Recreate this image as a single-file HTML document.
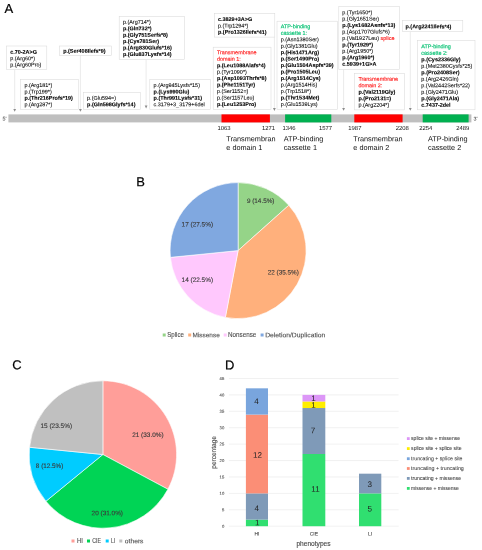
<!DOCTYPE html>
<html><head><meta charset="utf-8"><title>Figure</title>
<style>
html,body{margin:0;padding:0;background:#fff;}
svg{display:block;}
text{font-family:"Liberation Sans",Arial,sans-serif;fill:#000;}
.b{font-weight:bold;stroke:#000;stroke-width:0.1px;}
.bx{fill:#fff;stroke:#dadada;stroke-width:0.55;}
.ar{stroke:#d6d6d6;stroke-width:0.5;fill:none;}
.ah{fill:#8c8c8c;}
.t{font-size:5.45px;}
.r{fill:#ff1010;stroke:#ff1010;stroke-width:0.12px;}
.g{fill:#00c070;stroke:#00c070;stroke-width:0.15px;}
.n{fill:#000;stroke:#000;stroke-width:0.07px;}
.pl{font-size:13px;stroke:#000;stroke-width:0.2px;}
.dl{font-size:7.3px;fill:#111;}
.nl{font-size:5.9px;fill:#111;}
.pt{font-size:6.4px;fill:#3a3a3a;stroke:#3a3a3a;stroke-width:0.12px;}
.lg{font-size:6.5px;fill:#505050;stroke:#505050;stroke-width:0.12px;}
.ax{font-size:4.2px;fill:#505050;stroke:#505050;stroke-width:0.1px;}
.bl{font-size:8.1px;fill:#222;}
</style></head><body>
<svg width="482" height="550" viewBox="0 0 482 550">
<rect x="0" y="0" width="482" height="550" fill="#fff"/>

<g transform="matrix(1 0.0005 0 1 0 -0.0023)"><text class="pl" x="4.6" y="13.1">A</text></g>
<g transform="matrix(1 0.0005 0 1 0 -0.0681)"><text class="pl" x="136.2" y="186.3">B</text></g>
<g transform="matrix(1 0.0005 0 1 0 -0.0061)"><text class="pl" x="12.2" y="369.3">C</text></g>
<g transform="matrix(1 0.0005 0 1 0 -0.1125)"><text class="pl" x="224.9" y="369.5">D</text></g>
<line class="ar" x1="14.7" y1="69.7" x2="14.7" y2="109.8"/>
<path class="ah" d="M13.30 109.00L16.10 109.00L14.7 111.8Z"/>
<line class="ar" x1="80.4" y1="55.3" x2="80.4" y2="109.8"/>
<path class="ah" d="M79.00 109.00L81.80 109.00L80.4 111.8Z"/>
<line class="ar" x1="146.1" y1="59.7" x2="146.1" y2="106.4"/>
<path class="ah" d="M144.70 105.60L147.50 105.60L146.1 108.4Z"/>
<line class="ar" x1="274.4" y1="37.1" x2="274.4" y2="108.9"/>
<path class="ah" d="M273.00 108.10L275.80 108.10L274.4 110.9Z"/>
<line class="ar" x1="343.6" y1="69.3" x2="343.6" y2="108.7"/>
<path class="ah" d="M342.20 107.90L345.00 107.90L343.6 110.7Z"/>
<line class="ar" x1="410.3" y1="31.6" x2="410.3" y2="108.7"/>
<path class="ah" d="M408.90 107.90L411.70 107.90L410.3 110.7Z"/>
<rect class="bx" x="6.6" y="46" width="40.20" height="23.70"/>
<g transform="matrix(1 0.0005 0 1 0 -0.0051)"><text class="t" x="10.2" y="53.76"><tspan class="b">c.70-2A&gt;G</tspan></text></g>
<g transform="matrix(1 0.0005 0 1 0 -0.0051)"><text class="t" x="10.2" y="60.13"><tspan class="n">p.(Arg60*)</tspan></text></g>
<g transform="matrix(1 0.0005 0 1 0 -0.0051)"><text class="t" x="10.2" y="66.50"><tspan class="n">p.(Arg60Pro)</tspan></text></g>
<rect class="bx" x="59.7" y="46" width="51.60" height="9.30"/>
<g transform="matrix(1 0.0005 0 1 0 -0.0316)"><text class="t" x="63.2" y="52.76"><tspan class="b">p.(Ser408Ilefs*9)</tspan></text></g>
<rect class="bx" x="20.7" y="79.7" width="57.70" height="29.80"/>
<g transform="matrix(1 0.0005 0 1 0 -0.0122)"><text class="t" x="24.4" y="87.06"><tspan class="n">p.(Arg181*)</tspan></text></g>
<g transform="matrix(1 0.0005 0 1 0 -0.0122)"><text class="t" x="24.4" y="93.43"><tspan class="n">p.(Trp199*)</tspan></text></g>
<g transform="matrix(1 0.0005 0 1 0 -0.0122)"><text class="t" x="24.4" y="99.80"><tspan class="b">p.(Thr216Profs*19)</tspan></text></g>
<g transform="matrix(1 0.0005 0 1 0 -0.0122)"><text class="t" x="24.4" y="106.17"><tspan class="n">p.(Arg287*)</tspan></text></g>
<rect class="bx" x="83.4" y="92.6" width="57.00" height="16.90"/>
<g transform="matrix(1 0.0005 0 1 0 -0.0435)"><text class="t" x="87.1" y="99.76"><tspan class="n">p.(Glu594=)</tspan></text></g>
<g transform="matrix(1 0.0005 0 1 0 -0.0435)"><text class="t" x="87.1" y="106.13"><tspan class="b">p.(Gln598Glyfs*14)</tspan></text></g>
<rect class="bx" x="119.2" y="16.7" width="65.50" height="43.00"/>
<g transform="matrix(1 0.0005 0 1 0 -0.0615)"><text class="t" x="122.9" y="23.86"><tspan class="n">p.(Arg714*)</tspan></text></g>
<g transform="matrix(1 0.0005 0 1 0 -0.0615)"><text class="t" x="122.9" y="30.28"><tspan class="b">p.(Gln732*)</tspan></text></g>
<g transform="matrix(1 0.0005 0 1 0 -0.0615)"><text class="t" x="122.9" y="36.70"><tspan class="b">p.(Gly751Serfs*8)</tspan></text></g>
<g transform="matrix(1 0.0005 0 1 0 -0.0615)"><text class="t" x="122.9" y="43.12"><tspan class="b">p.(Cys781Ser)</tspan></text></g>
<g transform="matrix(1 0.0005 0 1 0 -0.0615)"><text class="t" x="122.9" y="49.54"><tspan class="b">p.(Arg830Glufs*16)</tspan></text></g>
<g transform="matrix(1 0.0005 0 1 0 -0.0615)"><text class="t" x="122.9" y="55.96"><tspan class="b">p.(Glu837Lysfs*14)</tspan></text></g>
<rect class="bx" x="149.8" y="79.7" width="60.90" height="29.90"/>
<g transform="matrix(1 0.0005 0 1 0 -0.0768)"><text class="t" x="153.6" y="87.06"><tspan class="n">p.(Arg945Lysfs*15)</tspan></text></g>
<g transform="matrix(1 0.0005 0 1 0 -0.0768)"><text class="t" x="153.6" y="93.43"><tspan class="b">p.(Lys990Glu)</tspan></text></g>
<g transform="matrix(1 0.0005 0 1 0 -0.0768)"><text class="t" x="153.6" y="99.80"><tspan class="b">p.(Thr991Lysfs*31)</tspan></text></g>
<g transform="matrix(1 0.0005 0 1 0 -0.0768)"><text class="t" x="153.6" y="106.17"><tspan class="n">c.3179+3_3179+6del</tspan></text></g>
<rect class="bx" x="214.5" y="13.6" width="60.30" height="23.50"/>
<g transform="matrix(1 0.0005 0 1 0 -0.1090)"><text class="t" x="218" y="20.96"><tspan class="b">c.3829+3A&gt;G</tspan></text></g>
<g transform="matrix(1 0.0005 0 1 0 -0.1090)"><text class="t" x="218" y="27.41"><tspan class="n">p.(Trp1294*)</tspan></text></g>
<g transform="matrix(1 0.0005 0 1 0 -0.1090)"><text class="t" x="218" y="33.86"><tspan class="b">p.(Pro1326Ilefs*41)</tspan></text></g>
<rect class="bx" x="213.2" y="47.2" width="57.80" height="62.50"/>
<g transform="matrix(1 0.0005 0 1 0 -0.1085)"><text class="t" x="216.9" y="54.26"><tspan class="r">Transmembrane</tspan></text></g>
<g transform="matrix(1 0.0005 0 1 0 -0.1085)"><text class="t" x="216.9" y="60.72"><tspan class="r">domain 1:</tspan></text></g>
<g transform="matrix(1 0.0005 0 1 0 -0.1085)"><text class="t" x="216.9" y="67.18"><tspan class="b">p.(Leu1088Alafs*4)</tspan></text></g>
<g transform="matrix(1 0.0005 0 1 0 -0.1085)"><text class="t" x="216.9" y="73.64"><tspan class="n">p.(Tyr1090*)</tspan></text></g>
<g transform="matrix(1 0.0005 0 1 0 -0.1085)"><text class="t" x="216.9" y="80.10"><tspan class="b">p.(Asp1093Thrfs*8)</tspan></text></g>
<g transform="matrix(1 0.0005 0 1 0 -0.1085)"><text class="t" x="216.9" y="86.56"><tspan class="b">p.(Phe1151Tyr)</tspan></text></g>
<g transform="matrix(1 0.0005 0 1 0 -0.1085)"><text class="t" x="216.9" y="93.02"><tspan class="n">p.(Ser1152=)</tspan></text></g>
<g transform="matrix(1 0.0005 0 1 0 -0.1085)"><text class="t" x="216.9" y="99.48"><tspan class="n">p.(Ser1157Leu)</tspan></text></g>
<g transform="matrix(1 0.0005 0 1 0 -0.1085)"><text class="t" x="216.9" y="105.94"><tspan class="b">p.(Leu1253Pro)</tspan></text></g>
<rect class="bx" x="277" y="21.2" width="60.40" height="88.30"/>
<g transform="matrix(1 0.0005 0 1 0 -0.1404)"><text class="t" x="280.7" y="28.26"><tspan class="g">ATP-binding</tspan></text></g>
<g transform="matrix(1 0.0005 0 1 0 -0.1404)"><text class="t" x="280.7" y="34.73"><tspan class="g">cassette 1:</tspan></text></g>
<g transform="matrix(1 0.0005 0 1 0 -0.1404)"><text class="t" x="280.7" y="41.20"><tspan class="n">p.(Asn1380Ser)</tspan></text></g>
<g transform="matrix(1 0.0005 0 1 0 -0.1404)"><text class="t" x="280.7" y="47.67"><tspan class="n">p.(Gly1381Glu)</tspan></text></g>
<g transform="matrix(1 0.0005 0 1 0 -0.1404)"><text class="t" x="280.7" y="54.14"><tspan class="b">p.(His1471Arg)</tspan></text></g>
<g transform="matrix(1 0.0005 0 1 0 -0.1404)"><text class="t" x="280.7" y="60.61"><tspan class="b">p.(Ser1490Pro)</tspan></text></g>
<g transform="matrix(1 0.0005 0 1 0 -0.1404)"><text class="t" x="280.7" y="67.08"><tspan class="b">p.(Glu1504Aspfs*39)</tspan></text></g>
<g transform="matrix(1 0.0005 0 1 0 -0.1404)"><text class="t" x="280.7" y="73.55"><tspan class="b">p.(Pro1505Leu)</tspan></text></g>
<g transform="matrix(1 0.0005 0 1 0 -0.1404)"><text class="t" x="280.7" y="80.02"><tspan class="b">p.(Arg1514Cys)</tspan></text></g>
<g transform="matrix(1 0.0005 0 1 0 -0.1404)"><text class="t" x="280.7" y="86.49"><tspan class="n">p.(Arg1514His)</tspan></text></g>
<g transform="matrix(1 0.0005 0 1 0 -0.1404)"><text class="t" x="280.7" y="92.96"><tspan class="n">p.(Trp1518*)</tspan></text></g>
<g transform="matrix(1 0.0005 0 1 0 -0.1404)"><text class="t" x="280.7" y="99.43"><tspan class="b">p.(Thr1534Met)</tspan></text></g>
<g transform="matrix(1 0.0005 0 1 0 -0.1404)"><text class="t" x="280.7" y="105.90"><tspan class="n">p.(Glu1539Lys)</tspan></text></g>
<rect class="bx" x="338.8" y="6.6" width="60.90" height="62.70"/>
<g transform="matrix(1 0.0005 0 1 0 -0.1711)"><text class="t" x="342.3" y="14.16"><tspan class="n">p.(Tyr1650*)</tspan></text></g>
<g transform="matrix(1 0.0005 0 1 0 -0.1711)"><text class="t" x="342.3" y="20.61"><tspan class="n">p.(Gly1651Ser)</tspan></text></g>
<g transform="matrix(1 0.0005 0 1 0 -0.1711)"><text class="t" x="342.3" y="27.06"><tspan class="b">p.(Lys1682Asnfs*13)</tspan></text></g>
<g transform="matrix(1 0.0005 0 1 0 -0.1711)"><text class="t" x="342.3" y="33.51"><tspan class="n">p.(Asp1707Glufs*6)</tspan></text></g>
<g transform="matrix(1 0.0005 0 1 0 -0.1711)"><text class="t" x="342.3" y="39.96"><tspan class="n">p.(Val1927Leu) </tspan><tspan class="r">splice</tspan></text></g>
<g transform="matrix(1 0.0005 0 1 0 -0.1711)"><text class="t" x="342.3" y="46.41"><tspan class="b">p.(Tyr1929*)</tspan></text></g>
<g transform="matrix(1 0.0005 0 1 0 -0.1711)"><text class="t" x="342.3" y="52.86"><tspan class="n">p.(Arg1950*)</tspan></text></g>
<g transform="matrix(1 0.0005 0 1 0 -0.1711)"><text class="t" x="342.3" y="59.31"><tspan class="b">p.(Arg1960*)</tspan></text></g>
<g transform="matrix(1 0.0005 0 1 0 -0.1711)"><text class="t" x="342.3" y="65.76"><tspan class="b">c.5939+1G&gt;A</tspan></text></g>
<rect class="bx" x="402.7" y="20.7" width="60.10" height="10.90"/>
<g transform="matrix(1 0.0005 0 1 0 -0.2028)"><text class="t" x="405.5" y="28.36"><tspan class="b">p.(Arg2241Ilefs*4)</tspan></text></g>
<rect class="bx" x="354.3" y="73.5" width="50.40" height="36.40"/>
<g transform="matrix(1 0.0005 0 1 0 -0.1792)"><text class="t" x="358.4" y="80.76"><tspan class="r">Transmembrane</tspan></text></g>
<g transform="matrix(1 0.0005 0 1 0 -0.1792)"><text class="t" x="358.4" y="87.23"><tspan class="r">domain 2:</tspan></text></g>
<g transform="matrix(1 0.0005 0 1 0 -0.1792)"><text class="t" x="358.4" y="93.70"><tspan class="b">p.(Val2119Gly)</tspan></text></g>
<g transform="matrix(1 0.0005 0 1 0 -0.1792)"><text class="t" x="358.4" y="100.17"><tspan class="b">p.(Pro2131=)</tspan></text></g>
<g transform="matrix(1 0.0005 0 1 0 -0.1792)"><text class="t" x="358.4" y="106.64"><tspan class="n">p.(Arg2204*)</tspan></text></g>
<rect class="bx" x="417.3" y="40.7" width="57.70" height="69.10"/>
<g transform="matrix(1 0.0005 0 1 0 -0.2107)"><text class="t" x="421.3" y="48.16"><tspan class="g">ATP-binding</tspan></text></g>
<g transform="matrix(1 0.0005 0 1 0 -0.2107)"><text class="t" x="421.3" y="54.68"><tspan class="g">cassette 2:</tspan></text></g>
<g transform="matrix(1 0.0005 0 1 0 -0.2107)"><text class="t" x="421.3" y="61.20"><tspan class="b">p.(Cys2336Gly)</tspan></text></g>
<g transform="matrix(1 0.0005 0 1 0 -0.2107)"><text class="t" x="421.3" y="67.72"><tspan class="n">p.(Met2380Cysfs*25)</tspan></text></g>
<g transform="matrix(1 0.0005 0 1 0 -0.2107)"><text class="t" x="421.3" y="74.24"><tspan class="b">p.(Pro2408Ser)</tspan></text></g>
<g transform="matrix(1 0.0005 0 1 0 -0.2107)"><text class="t" x="421.3" y="80.76"><tspan class="n">p.(Arg2426Gln)</tspan></text></g>
<g transform="matrix(1 0.0005 0 1 0 -0.2107)"><text class="t" x="421.3" y="87.28"><tspan class="n">p.(Val2442Serfs*22)</tspan></text></g>
<g transform="matrix(1 0.0005 0 1 0 -0.2107)"><text class="t" x="421.3" y="93.80"><tspan class="n">p.(Gly2471Glu)</tspan></text></g>
<g transform="matrix(1 0.0005 0 1 0 -0.2107)"><text class="t" x="421.3" y="100.32"><tspan class="b">p.(Gly2471Ala)</tspan></text></g>
<g transform="matrix(1 0.0005 0 1 0 -0.2107)"><text class="t" x="421.3" y="106.84"><tspan class="b">c.7437-2del</tspan></text></g>
<rect x="8.4" y="114.4" width="463" height="8" fill="#bfbfbf"/>
<rect x="221.5" y="114.4" width="48.4" height="8" fill="#ff0000"/>
<rect x="285.1" y="114.4" width="46.2" height="8" fill="#00b050"/>
<rect x="354.3" y="114.4" width="48.3" height="8" fill="#ff0000"/>
<rect x="422.7" y="114.4" width="45.9" height="8" fill="#00b050"/>
<g transform="matrix(1 0.0005 0 1 0 -0.0012)"><text x="2.4" y="120.6" style="font-size:5.4px;fill:#222">5'</text></g>
<g transform="matrix(1 0.0005 0 1 0 -0.2368)"><text x="473.6" y="120.6" style="font-size:5.4px;fill:#222">3'</text></g>
<g transform="matrix(1 0.0005 0 1 0 -0.1087)"><text class="nl" x="217.4" y="129.9" text-anchor="start">1063</text></g>
<g transform="matrix(1 0.0005 0 1 0 -0.1375)"><text class="nl" x="275" y="129.9" text-anchor="end">1271</text></g>
<g transform="matrix(1 0.0005 0 1 0 -0.1412)"><text class="nl" x="282.4" y="129.9" text-anchor="start">1346</text></g>
<g transform="matrix(1 0.0005 0 1 0 -0.1660)"><text class="nl" x="332" y="129.9" text-anchor="end">1577</text></g>
<g transform="matrix(1 0.0005 0 1 0 -0.1741)"><text class="nl" x="348.3" y="129.9" text-anchor="start">1987</text></g>
<g transform="matrix(1 0.0005 0 1 0 -0.2044)"><text class="nl" x="408.8" y="129.9" text-anchor="end">2208</text></g>
<g transform="matrix(1 0.0005 0 1 0 -0.2096)"><text class="nl" x="419.2" y="129.9" text-anchor="start">2254</text></g>
<g transform="matrix(1 0.0005 0 1 0 -0.2346)"><text class="nl" x="469.3" y="129.9" text-anchor="end">2489</text></g>
<g transform="matrix(1 0.0005 0 1 0 -0.1132)"><text class="dl" x="226.3" y="141.2">Transmembran</text></g>
<g transform="matrix(1 0.0005 0 1 0 -0.1132)"><text class="dl" x="226.3" y="149.9">e domain 1</text></g>
<g transform="matrix(1 0.0005 0 1 0 -0.1419)"><text class="dl" x="283.7" y="141.2">ATP-binding</text></g>
<g transform="matrix(1 0.0005 0 1 0 -0.1419)"><text class="dl" x="283.7" y="149.9">cassette 1</text></g>
<g transform="matrix(1 0.0005 0 1 0 -0.1767)"><text class="dl" x="353.3" y="141.2">Transmembran</text></g>
<g transform="matrix(1 0.0005 0 1 0 -0.1767)"><text class="dl" x="353.3" y="149.9">e domain 2</text></g>
<g transform="matrix(1 0.0005 0 1 0 -0.2140)"><text class="dl" x="428" y="141.2">ATP-binding</text></g>
<g transform="matrix(1 0.0005 0 1 0 -0.2140)"><text class="dl" x="428" y="149.9">cassette 2</text></g>
<path d="M238.1 250.6L238.10 182.60A68 68 0 0 1 288.79 205.28Z" fill="#95d488" stroke="#fff" stroke-width="0.6" stroke-linejoin="round"/>
<path d="M238.1 250.6L288.79 205.28A68 68 0 0 1 225.36 317.40Z" fill="#ffb07c" stroke="#fff" stroke-width="0.6" stroke-linejoin="round"/>
<path d="M238.1 250.6L225.36 317.40A68 68 0 0 1 170.44 257.35Z" fill="#ffc8fd" stroke="#fff" stroke-width="0.6" stroke-linejoin="round"/>
<path d="M238.1 250.6L170.44 257.35A68 68 0 0 1 238.10 182.60Z" fill="#80a8e0" stroke="#fff" stroke-width="0.6" stroke-linejoin="round"/>
<g transform="matrix(1 0.0005 0 1 0 -0.1235)"><text class="pt" x="246.90" y="202.90" textLength="27.6" lengthAdjust="spacingAndGlyphs">9 (14.5%)</text></g>
<g transform="matrix(1 0.0005 0 1 0 -0.1339)"><text class="pt" x="267.85" y="274.60" textLength="30.9" lengthAdjust="spacingAndGlyphs">22 (35.5%)</text></g>
<g transform="matrix(1 0.0005 0 1 0 -0.0908)"><text class="pt" x="181.55" y="281.90" textLength="31.5" lengthAdjust="spacingAndGlyphs">14 (22.5%)</text></g>
<g transform="matrix(1 0.0005 0 1 0 -0.0908)"><text class="pt" x="181.55" y="226.40" textLength="31.5" lengthAdjust="spacingAndGlyphs">17 (27.5%)</text></g>
<rect x="162.7" y="333.50" width="3.0" height="3.0" fill="#95d488"/>
<g transform="matrix(1 0.0005 0 1 0 -0.0837)"><text class="lg" x="167.3" y="337.30" textLength="16.60" lengthAdjust="spacingAndGlyphs">Splice</text></g>
<rect x="188.2" y="333.50" width="3.0" height="3.0" fill="#ffb07c"/>
<g transform="matrix(1 0.0005 0 1 0 -0.0963)"><text class="lg" x="192.5" y="337.30" textLength="27.30" lengthAdjust="spacingAndGlyphs">Missense</text></g>
<rect x="223.7" y="333.50" width="3.0" height="3.0" fill="#ffc8fd"/>
<g transform="matrix(1 0.0005 0 1 0 -0.1140)"><text class="lg" x="228" y="337.30" textLength="28.30" lengthAdjust="spacingAndGlyphs">Nonsense</text></g>
<rect x="260.6" y="333.50" width="3.0" height="3.0" fill="#80a8e0"/>
<g transform="matrix(1 0.0005 0 1 0 -0.1326)"><text class="lg" x="265.2" y="337.30" textLength="60.10" lengthAdjust="spacingAndGlyphs">Deletion/Duplication</text></g>
<path d="M102.9 454.5L102.90 380.80A73.7 73.7 0 0 1 167.90 489.24Z" fill="#ff9e99" stroke="#fff" stroke-width="0.6" stroke-linejoin="round"/>
<path d="M102.9 454.5L167.90 489.24A73.7 73.7 0 0 1 45.93 501.25Z" fill="#00d455" stroke="#fff" stroke-width="0.6" stroke-linejoin="round"/>
<path d="M102.9 454.5L45.93 501.25A73.7 73.7 0 0 1 29.55 447.28Z" fill="#00ccff" stroke="#fff" stroke-width="0.6" stroke-linejoin="round"/>
<path d="M102.9 454.5L29.55 447.28A73.7 73.7 0 0 1 102.90 380.80Z" fill="#c0c0c0" stroke="#fff" stroke-width="0.6" stroke-linejoin="round"/>
<g transform="matrix(1 0.0005 0 1 0 -0.0661)"><text class="pt" x="132.20" y="436.90" textLength="31.4" lengthAdjust="spacingAndGlyphs">21 (33.0%)</text></g>
<g transform="matrix(1 0.0005 0 1 0 -0.0458)"><text class="pt" x="91.60" y="515.20" textLength="31.4" lengthAdjust="spacingAndGlyphs">20 (31.0%)</text></g>
<g transform="matrix(1 0.0005 0 1 0 -0.0179)"><text class="pt" x="35.85" y="467.90" textLength="27.5" lengthAdjust="spacingAndGlyphs">8 (12.5%)</text></g>
<g transform="matrix(1 0.0005 0 1 0 -0.0202)"><text class="pt" x="40.45" y="428.00" textLength="31.7" lengthAdjust="spacingAndGlyphs">15 (23.5%)</text></g>
<rect x="71.5" y="539.50" width="3.0" height="3.0" fill="#ff9e99"/>
<g transform="matrix(1 0.0005 0 1 0 -0.0385)"><text class="lg" x="76.9" y="543.30" textLength="5.90" lengthAdjust="spacingAndGlyphs">HI</text></g>
<rect x="87" y="539.50" width="3.0" height="3.0" fill="#00d455"/>
<g transform="matrix(1 0.0005 0 1 0 -0.0461)"><text class="lg" x="92.3" y="543.30" textLength="8.80" lengthAdjust="spacingAndGlyphs">CIE</text></g>
<rect x="105.7" y="539.50" width="3.0" height="3.0" fill="#00ccff"/>
<g transform="matrix(1 0.0005 0 1 0 -0.0555)"><text class="lg" x="111" y="543.30" textLength="4.20" lengthAdjust="spacingAndGlyphs">LI</text></g>
<rect x="119.3" y="539.50" width="3.0" height="3.0" fill="#c0c0c0"/>
<g transform="matrix(1 0.0005 0 1 0 -0.0624)"><text class="lg" x="124.8" y="543.30" textLength="18.70" lengthAdjust="spacingAndGlyphs">others</text></g>
<line x1="228.9" y1="526.20" x2="398.6" y2="526.20" stroke="#e3e3e3" stroke-width="0.5"/>
<g transform="matrix(1 0.0005 0 1 0 -0.1122)"><text class="ax" x="224.3" y="527.70" text-anchor="end">0</text></g>
<line x1="228.9" y1="509.79" x2="398.6" y2="509.79" stroke="#e3e3e3" stroke-width="0.5"/>
<g transform="matrix(1 0.0005 0 1 0 -0.1122)"><text class="ax" x="224.3" y="511.29" text-anchor="end">5</text></g>
<line x1="228.9" y1="493.38" x2="398.6" y2="493.38" stroke="#e3e3e3" stroke-width="0.5"/>
<g transform="matrix(1 0.0005 0 1 0 -0.1122)"><text class="ax" x="224.3" y="494.88" text-anchor="end">10</text></g>
<line x1="228.9" y1="476.96" x2="398.6" y2="476.96" stroke="#e3e3e3" stroke-width="0.5"/>
<g transform="matrix(1 0.0005 0 1 0 -0.1122)"><text class="ax" x="224.3" y="478.46" text-anchor="end">15</text></g>
<line x1="228.9" y1="460.55" x2="398.6" y2="460.55" stroke="#e3e3e3" stroke-width="0.5"/>
<g transform="matrix(1 0.0005 0 1 0 -0.1122)"><text class="ax" x="224.3" y="462.05" text-anchor="end">20</text></g>
<line x1="228.9" y1="444.14" x2="398.6" y2="444.14" stroke="#e3e3e3" stroke-width="0.5"/>
<g transform="matrix(1 0.0005 0 1 0 -0.1122)"><text class="ax" x="224.3" y="445.64" text-anchor="end">25</text></g>
<line x1="228.9" y1="427.73" x2="398.6" y2="427.73" stroke="#e3e3e3" stroke-width="0.5"/>
<g transform="matrix(1 0.0005 0 1 0 -0.1122)"><text class="ax" x="224.3" y="429.23" text-anchor="end">30</text></g>
<line x1="228.9" y1="411.31" x2="398.6" y2="411.31" stroke="#e3e3e3" stroke-width="0.5"/>
<g transform="matrix(1 0.0005 0 1 0 -0.1122)"><text class="ax" x="224.3" y="412.81" text-anchor="end">35</text></g>
<line x1="228.9" y1="394.90" x2="398.6" y2="394.90" stroke="#e3e3e3" stroke-width="0.5"/>
<g transform="matrix(1 0.0005 0 1 0 -0.1122)"><text class="ax" x="224.3" y="396.40" text-anchor="end">40</text></g>
<line x1="228.9" y1="378.49" x2="398.6" y2="378.49" stroke="#e3e3e3" stroke-width="0.5"/>
<g transform="matrix(1 0.0005 0 1 0 -0.1122)"><text class="ax" x="224.3" y="379.99" text-anchor="end">45</text></g>
<rect x="245.9" y="519.63" width="22.10" height="6.57" fill="#30df70"/>
<g transform="matrix(1 0.0005 0 1 0 -0.1287)"><text class="bl" x="257.35" y="525.32" text-anchor="middle">1</text></g>
<rect x="245.9" y="493.38" width="22.10" height="26.26" fill="#7f9ab8"/>
<g transform="matrix(1 0.0005 0 1 0 -0.1283)"><text class="bl" x="256.65" y="511.00" text-anchor="middle">4</text></g>
<rect x="245.9" y="414.60" width="22.10" height="78.78" fill="#fb8e76"/>
<g transform="matrix(1 0.0005 0 1 0 -0.1288)"><text class="bl" x="257.55" y="457.88" text-anchor="middle">12</text></g>
<rect x="245.9" y="388.33" width="22.10" height="26.26" fill="#79a5dd"/>
<g transform="matrix(1 0.0005 0 1 0 -0.1282)"><text class="bl" x="256.45" y="403.97" text-anchor="middle">4</text></g>
<rect x="302.5" y="453.99" width="22.80" height="72.22" fill="#30df70"/>
<g transform="matrix(1 0.0005 0 1 0 -0.1578)"><text class="bl" x="315.50" y="491.89" text-anchor="middle">11</text></g>
<rect x="302.5" y="408.03" width="22.80" height="45.96" fill="#7f9ab8"/>
<g transform="matrix(1 0.0005 0 1 0 -0.1565)"><text class="bl" x="313.00" y="433.21" text-anchor="middle">7</text></g>
<rect x="302.5" y="401.46" width="22.80" height="6.56" fill="#ffee00"/>
<g transform="matrix(1 0.0005 0 1 0 -0.1568)"><text class="bl" x="313.60" y="407.65" text-anchor="middle">1</text></g>
<rect x="302.5" y="394.90" width="22.80" height="6.56" fill="#dc96f7"/>
<g transform="matrix(1 0.0005 0 1 0 -0.1568)"><text class="bl" x="313.60" y="401.08" text-anchor="middle">1</text></g>
<rect x="359" y="493.38" width="22.30" height="32.83" fill="#30df70"/>
<g transform="matrix(1 0.0005 0 1 0 -0.1849)"><text class="bl" x="369.75" y="511.59" text-anchor="middle">5</text></g>
<rect x="359" y="473.68" width="22.30" height="19.69" fill="#7f9ab8"/>
<g transform="matrix(1 0.0005 0 1 0 -0.1849)"><text class="bl" x="369.75" y="487.13" text-anchor="middle">3</text></g>
<g transform="matrix(1 0.0005 0 1 0 -0.1285)"><text x="257" y="535.6" text-anchor="middle" style="font-size:5px;fill:#4a4a4a;stroke:#4a4a4a;stroke-width:0.1px">HI</text></g>
<g transform="matrix(1 0.0005 0 1 0 -0.1569)"><text x="313.9" y="535.6" text-anchor="middle" style="font-size:5px;fill:#4a4a4a;stroke:#4a4a4a;stroke-width:0.1px">CIE</text></g>
<g transform="matrix(1 0.0005 0 1 0 -0.1851)"><text x="370.2" y="535.6" text-anchor="middle" style="font-size:5px;fill:#4a4a4a;stroke:#4a4a4a;stroke-width:0.1px">LI</text></g>
<g transform="matrix(1 0.0005 0 1 0 -0.1482)"><text x="296.4" y="546.1" textLength="34.2" lengthAdjust="spacingAndGlyphs" style="font-size:6.8px;fill:#4a4a4a;stroke:#4a4a4a;stroke-width:0.14px">phenotypes</text></g>
<g transform="matrix(1 0.0005 0 1 0 -0.1079)"><text transform="translate(215.8,452.4) rotate(-90)" x="-16.35" y="0" textLength="32.7" lengthAdjust="spacingAndGlyphs" style="font-size:6.8px;fill:#4a4a4a;stroke:#4a4a4a;stroke-width:0.14px">percentage</text></g>
<rect x="406.9" y="437.20000000000005" width="2.8" height="2.8" fill="#dc96f7"/>
<g transform="matrix(1 0.0005 0 1 0 -0.2056)"><text x="411.1" y="440.1" textLength="48.90" lengthAdjust="spacingAndGlyphs" style="font-size:5.3px;fill:#444;stroke:#444;stroke-width:0.08px">splice site + missense</text></g>
<rect x="406.9" y="447.20000000000005" width="2.8" height="2.8" fill="#ffee00"/>
<g transform="matrix(1 0.0005 0 1 0 -0.2056)"><text x="411.1" y="450.1" textLength="50.40" lengthAdjust="spacingAndGlyphs" style="font-size:5.3px;fill:#444;stroke:#444;stroke-width:0.08px">splice site + splice site</text></g>
<rect x="406.9" y="457.3" width="2.8" height="2.8" fill="#79a5dd"/>
<g transform="matrix(1 0.0005 0 1 0 -0.2056)"><text x="411.1" y="460.2" textLength="51.40" lengthAdjust="spacingAndGlyphs" style="font-size:5.3px;fill:#444;stroke:#444;stroke-width:0.08px">truncating + splice site</text></g>
<rect x="406.9" y="467.1" width="2.8" height="2.8" fill="#fb8e76"/>
<g transform="matrix(1 0.0005 0 1 0 -0.2056)"><text x="411.1" y="470.0" textLength="52.70" lengthAdjust="spacingAndGlyphs" style="font-size:5.3px;fill:#444;stroke:#444;stroke-width:0.08px">truncating + truncating</text></g>
<rect x="406.9" y="477.0" width="2.8" height="2.8" fill="#7f9ab8"/>
<g transform="matrix(1 0.0005 0 1 0 -0.2056)"><text x="411.1" y="479.9" textLength="50.00" lengthAdjust="spacingAndGlyphs" style="font-size:5.3px;fill:#444;stroke:#444;stroke-width:0.08px">truncating + missense</text></g>
<rect x="406.9" y="487.0" width="2.8" height="2.8" fill="#30df70"/>
<g transform="matrix(1 0.0005 0 1 0 -0.2056)"><text x="411.1" y="489.9" textLength="47.60" lengthAdjust="spacingAndGlyphs" style="font-size:5.3px;fill:#444;stroke:#444;stroke-width:0.08px">missense + missense</text></g>
</svg></body></html>
